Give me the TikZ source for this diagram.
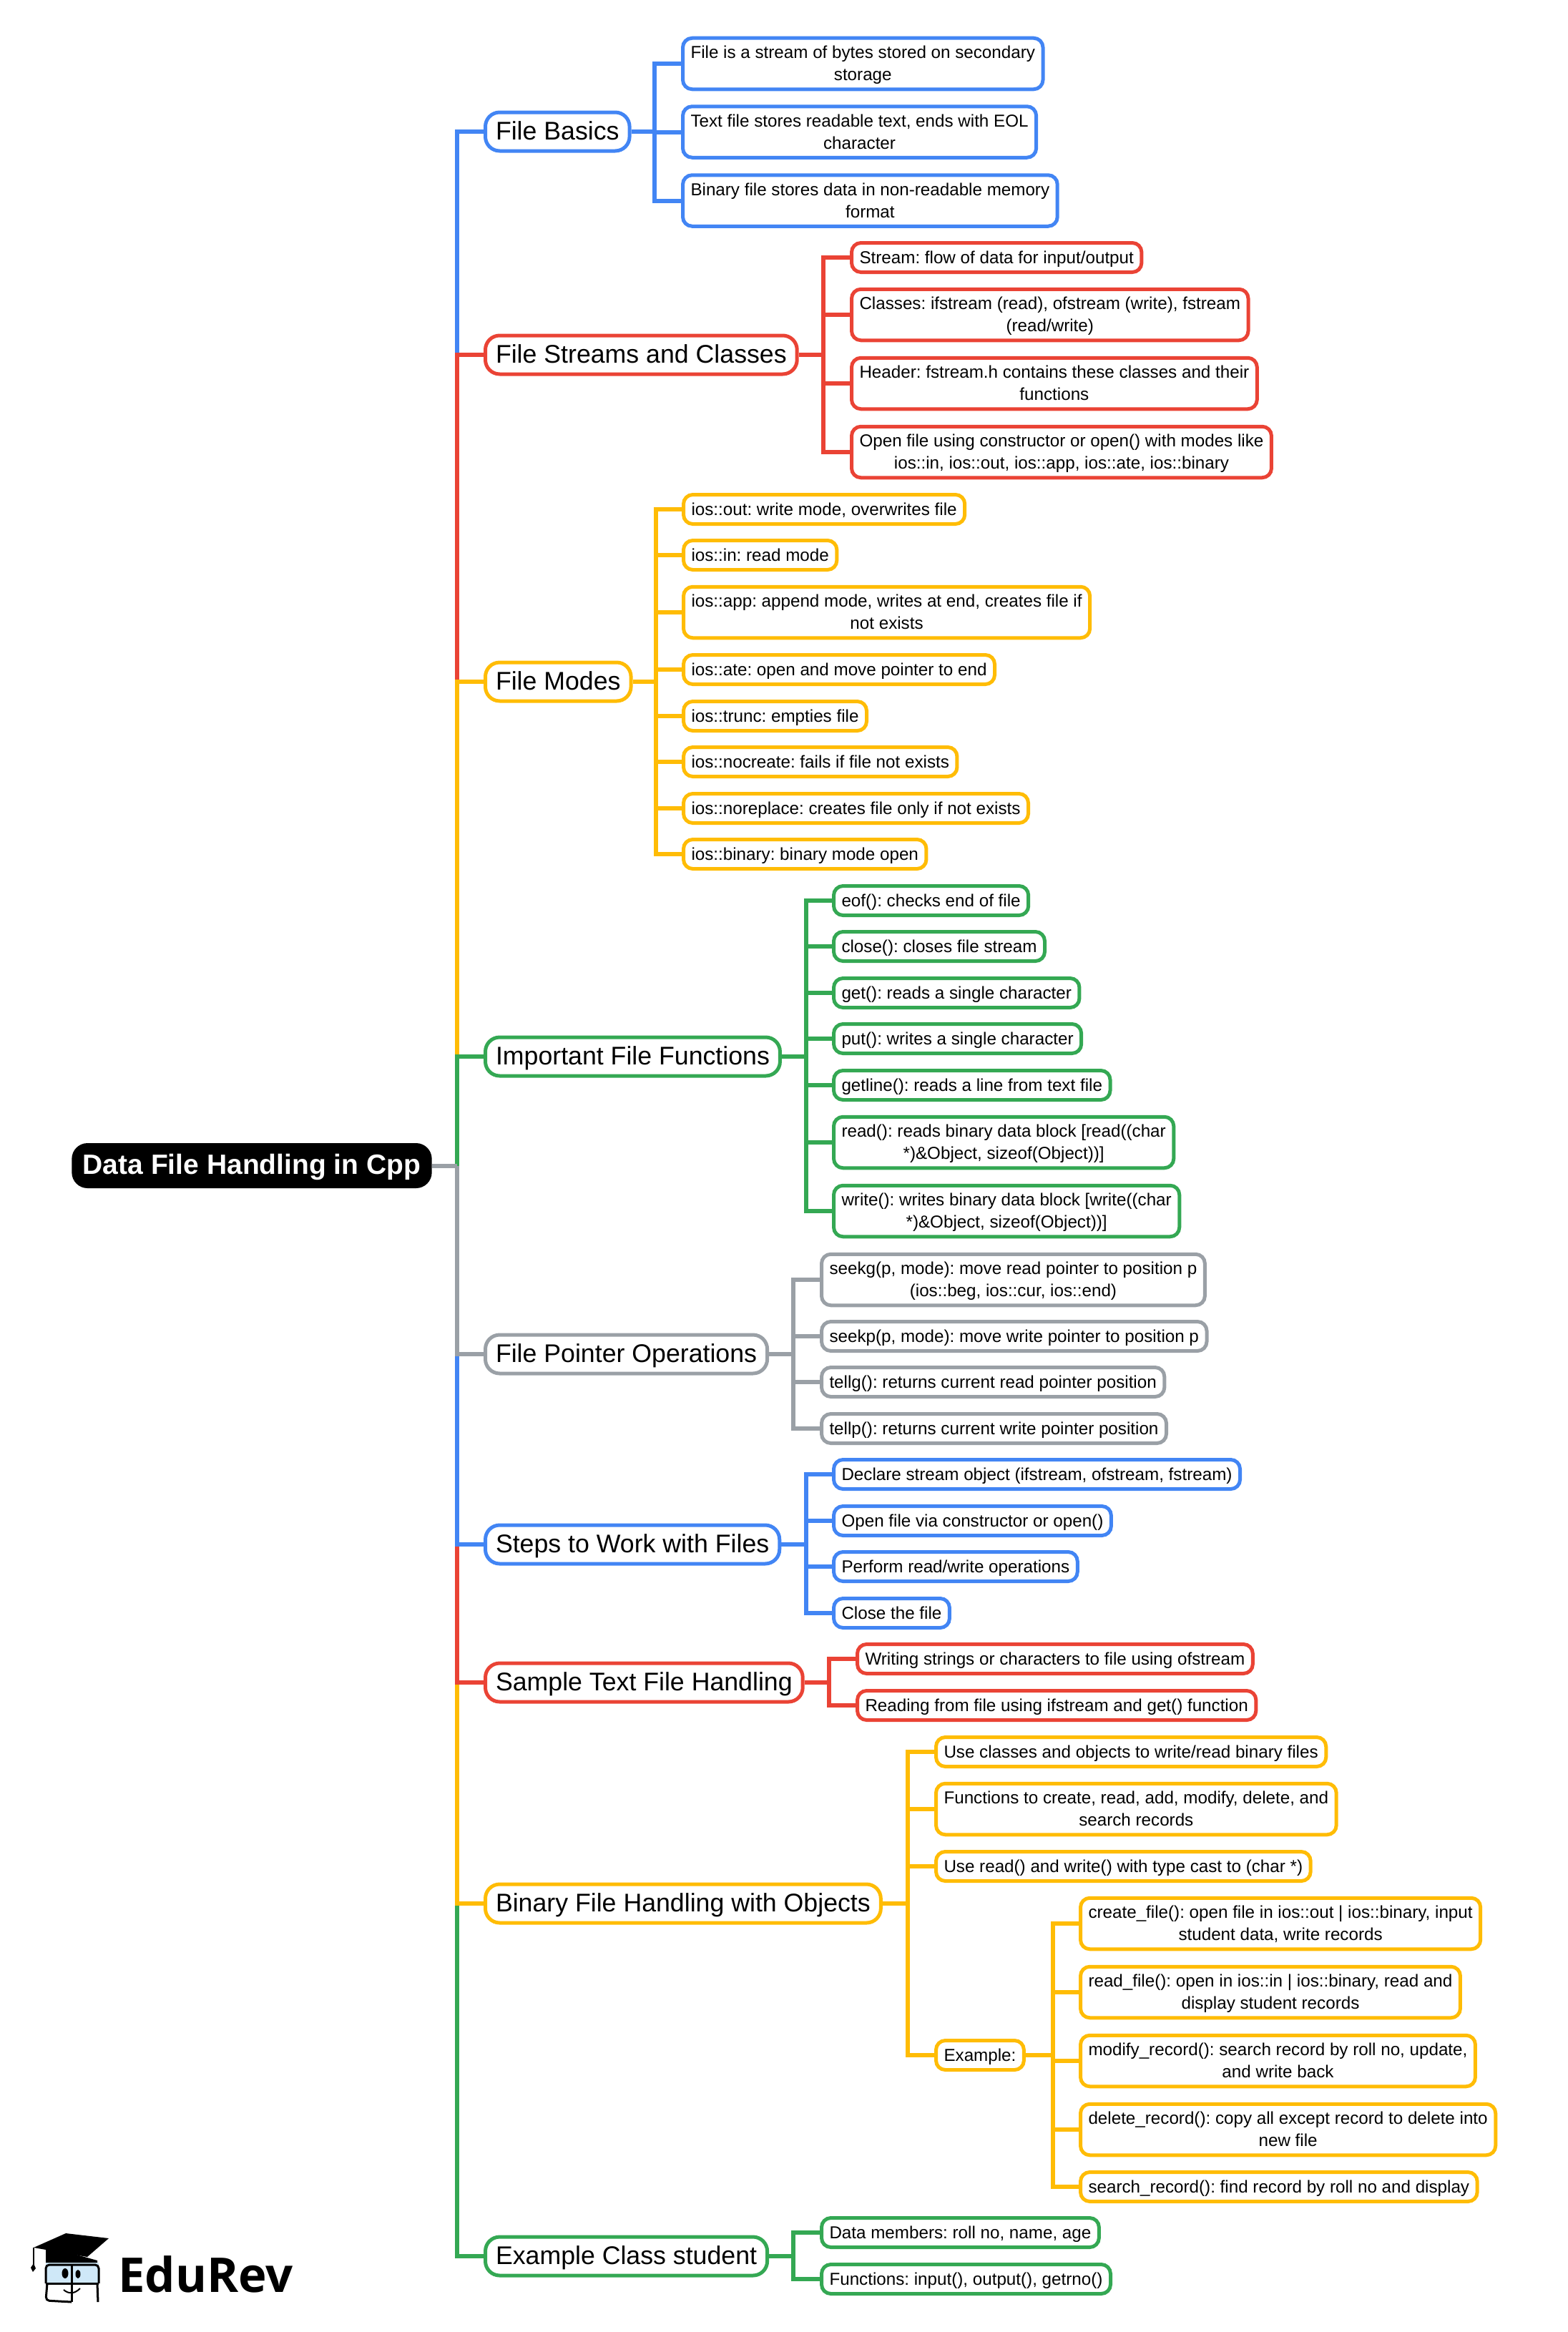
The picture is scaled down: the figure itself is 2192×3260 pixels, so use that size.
\documentclass[tikz,border=0pt]{standalone}
\usepackage{fontspec}
\setmainfont{Liberation Sans}
\newfontfamily\logofont{Open Sans}
\frenchspacing
\definecolor{cblue}{HTML}{4285F4}
\definecolor{cred}{HTML}{EA4335}
\definecolor{cyellow}{HTML}{FFBC05}
\definecolor{cgreen}{HTML}{34A853}
\definecolor{cgrey}{HTML}{9AA0A6}
\definecolor{cglass}{HTML}{CFE8F8}
\tikzset{
  cpproot/.style={fill=black, text=white, rounded corners=22pt, inner xsep=15.5pt, inner ysep=0pt,
    minimum height=63pt, text height=30pt, text depth=5.5pt, font=\fontsize{39}{46}\selectfont\bfseries},
  branch/.style={draw=#1, fill=white, line width=5pt, rounded corners=20pt, anchor=west, inner xsep=14.5pt,
    inner ysep=0pt, minimum height=54pt, text height=28pt, text depth=5pt, font=\fontsize{35.7}{42}\selectfont},
  boxbase/.style={draw=#1, fill=white, line width=5pt, rounded corners=13pt, anchor=west, inner xsep=11pt,
    inner ysep=0pt, align=center, font=\fontsize{24.2}{31}\selectfont},
  leaf/.style={boxbase=#1, minimum height=41pt, text height=19.5pt, text depth=3.5pt},
  tall/.style={boxbase=#1, minimum height=71.5pt, text height=50pt, text depth=3pt},
  link/.style={draw=#1, line width=6pt}
}
\begin{document}
\begin{tikzpicture}[x=1pt, y=-1pt]
  \useasboundingbox (0,0) rectangle (2192,3260);

  % Trunk x of the main branches
  \def\trunk{639}
  \def\mainx{676}

  % === Root and main branches
  \node[cpproot] (root) at (352,1629.5) {Data File Handling in Cpp};
  \coordinate (trunktop) at (\trunk,1629.5);

  \node[branch=cblue] (basics) at (\mainx,184) {File Basics};
  \node[branch=cred] (streams) at (\mainx,496) {File Streams and Classes};
  \node[branch=cyellow] (modes) at (\mainx,953) {File Modes};
  \node[branch=cgreen] (funcs) at (\mainx,1477) {Important File Functions};
  \node[branch=cgrey] (pointer) at (\mainx,1893) {File Pointer Operations};
  \node[branch=cblue] (steps) at (\mainx,2159) {Steps to Work with Files};
  \node[branch=cred] (sample) at (\mainx,2352) {Sample Text File Handling};
  \node[branch=cyellow] (binary) at (\mainx,2661) {Binary File Handling with Objects};
  \node[branch=cgreen] (student) at (\mainx,3154) {Example Class student};

  % Outer branches first, so that the nearer ones lie on top
  \foreach \b/\c in {basics/cblue, streams/cred, modes/cyellow, funcs/cgreen,
                     student/cgreen, binary/cyellow, sample/cred, steps/cblue, pointer/cgrey}
    \draw[link=\c] (trunktop) |- (\b.west);
  \draw[link=cgrey] (root.east) -- (trunktop);

  % === File Basics
  \node[tall=cblue] (basics1) at (952,89) {File is a stream of bytes stored on secondary\\storage};
  \node[tall=cblue] (basics2) at (952,184.5) {Text file stores readable text, ends with EOL\\character};
  \node[tall=cblue] (basics3) at (952,280.5) {Binary file stores data in non-readable memory\\format};
  \coordinate (basicsbus) at (915,184);
  \draw[link=cblue] (basics.east) -- (basicsbus);
  \foreach \n in {basics1,basics2,basics3}
    \draw[link=cblue] (basicsbus) |- (\n.west);

  % === File Streams and Classes
  \node[leaf=cred] (streams1) at (1188,360) {Stream: flow of data for input/output};
  \node[tall=cred] (streams2) at (1188,440) {Classes: ifstream (read), ofstream (write), fstream\\(read/write)};
  \node[tall=cred] (streams3) at (1188,536) {Header: fstream.h contains these classes and their\\functions};
  \node[tall=cred] (streams4) at (1188,632) {Open file using constructor or open() with modes like\\ios::in, ios::out, ios::app, ios::ate, ios::binary};
  \coordinate (streamsbus) at (1151,496);
  \draw[link=cred] (streams.east) -- (streamsbus);
  \foreach \n in {streams1,streams2,streams3,streams4}
    \draw[link=cred] (streamsbus) |- (\n.west);

  % === File Modes
  \node[leaf=cyellow] (modes1) at (953,712) {ios::out: write mode, overwrites file};
  \node[leaf=cyellow] (modes2) at (953,776) {ios::in: read mode};
  \node[tall=cyellow] (modes3) at (953,856) {ios::app: append mode, writes at end, creates file if\\not exists};
  \node[leaf=cyellow] (modes4) at (953,936) {ios::ate: open and move pointer to end};
  \node[leaf=cyellow] (modes5) at (953,1001) {ios::trunc: empties file};
  \node[leaf=cyellow] (modes6) at (953,1065) {ios::nocreate: fails if file not exists};
  \node[leaf=cyellow] (modes7) at (953,1130) {ios::noreplace: creates file only if not exists};
  \node[leaf=cyellow] (modes8) at (953,1194) {ios::binary: binary mode open};
  \coordinate (modesbus) at (917,953);
  \draw[link=cyellow] (modes.east) -- (modesbus);
  \foreach \n in {modes1,modes2,modes3,modes4,modes5,modes6,modes7,modes8}
    \draw[link=cyellow] (modesbus) |- (\n.west);

  % === Important File Functions
  \node[leaf=cgreen] (funcs1) at (1163,1259) {eof(): checks end of file};
  \node[leaf=cgreen] (funcs2) at (1163,1323) {close(): closes file stream};
  \node[leaf=cgreen] (funcs3) at (1163,1388) {get(): reads a single character};
  \node[leaf=cgreen] (funcs4) at (1163,1452) {put(): writes a single character};
  \node[leaf=cgreen] (funcs5) at (1163,1517) {getline(): reads a line from text file};
  \node[tall=cgreen] (funcs6) at (1163,1597) {read(): reads binary data block [read((char\\{}*)\&Object, sizeof(Object))]};
  \node[tall=cgreen] (funcs7) at (1163,1693) {write(): writes binary data block [write((char\\{}*)\&Object, sizeof(Object))]};
  \coordinate (funcsbus) at (1127,1477);
  \draw[link=cgreen] (funcs.east) -- (funcsbus);
  \foreach \n in {funcs1,funcs2,funcs3,funcs4,funcs5,funcs6,funcs7}
    \draw[link=cgreen] (funcsbus) |- (\n.west);

  % === File Pointer Operations
  \node[tall=cgrey] (pointer1) at (1146,1789) {seekg(p, mode): move read pointer to position p\\(ios::beg, ios::cur, ios::end)};
  \node[leaf=cgrey] (pointer2) at (1146,1868) {seekp(p, mode): move write pointer to position p};
  \node[leaf=cgrey] (pointer3) at (1146,1932) {tellg(): returns current read pointer position};
  \node[leaf=cgrey] (pointer4) at (1146,1997) {tellp(): returns current write pointer position};
  \coordinate (pointerbus) at (1109,1893);
  \draw[link=cgrey] (pointer.east) -- (pointerbus);
  \foreach \n in {pointer1,pointer2,pointer3,pointer4}
    \draw[link=cgrey] (pointerbus) |- (\n.west);

  % === Steps to Work with Files
  \node[leaf=cblue] (steps1) at (1163,2061) {Declare stream object (ifstream, ofstream, fstream)};
  \node[leaf=cblue] (steps2) at (1163,2126) {Open file via constructor or open()};
  \node[leaf=cblue] (steps3) at (1163,2190) {Perform read/write operations};
  \node[leaf=cblue] (steps4) at (1163,2255) {Close the file};
  \coordinate (stepsbus) at (1127,2159);
  \draw[link=cblue] (steps.east) -- (stepsbus);
  \foreach \n in {steps1,steps2,steps3,steps4}
    \draw[link=cblue] (stepsbus) |- (\n.west);

  % === Sample Text File Handling
  \node[leaf=cred] (sample1) at (1196,2319) {Writing strings or characters to file using ofstream};
  \node[leaf=cred] (sample2) at (1196,2384) {Reading from file using ifstream and get() function};
  \coordinate (samplebus) at (1159,2352);
  \draw[link=cred] (sample.east) -- (samplebus);
  \foreach \n in {sample1,sample2}
    \draw[link=cred] (samplebus) |- (\n.west);

  % === Binary File Handling with Objects
  \node[leaf=cyellow] (binary1) at (1306,2449) {Use classes and objects to write/read binary files};
  \node[tall=cyellow] (binary2) at (1306,2529) {Functions to create, read, add, modify, delete, and\\search records};
  \node[leaf=cyellow] (binary3) at (1306,2609) {Use read() and write() with type cast to (char *)};
  \node[leaf=cyellow] (example) at (1306,2873) {Example:};
  \coordinate (binarybus) at (1269,2661);
  \draw[link=cyellow] (binary.east) -- (binarybus);
  \foreach \n in {binary1,binary2,binary3,example}
    \draw[link=cyellow] (binarybus) |- (\n.west);

  % Example records
  \node[tall=cyellow] (record1) at (1508,2689) {create\_file(): open file in ios::out | ios::binary, input\\student data, write records};
  \node[tall=cyellow] (record2) at (1508,2785) {read\_file(): open in ios::in | ios::binary, read and\\display student records};
  \node[tall=cyellow] (record3) at (1508,2881) {modify\_record(): search record by roll no, update,\\and write back};
  \node[tall=cyellow] (record4) at (1508,2977) {delete\_record(): copy all except record to delete into\\new file};
  \node[leaf=cyellow] (record5) at (1508,3057) {search\_record(): find record by roll no and display};
  \coordinate (examplebus) at (1472,2873);
  \draw[link=cyellow] (example.east) -- (examplebus);
  \foreach \n in {record1,record2,record3,record4,record5}
    \draw[link=cyellow] (examplebus) |- (\n.west);

  % === Example Class student
  \node[leaf=cgreen] (student1) at (1146,3121) {Data members: roll no, name, age};
  \node[leaf=cgreen] (student2) at (1146,3186) {Functions: input(), output(), getrno()};
  \coordinate (studentbus) at (1109,3154);
  \draw[link=cgreen] (student.east) -- (studentbus);
  \foreach \n in {student1,student2}
    \draw[link=cgreen] (studentbus) |- (\n.west);

  % === Logo
  \fill[cglass] (64,3163) rectangle (138,3192);
  \draw[line width=3pt, rounded corners=5pt] (64,3192) -- (64,3166) -- (138,3166) -- (138,3192);
  \draw[line width=3pt, rounded corners=5pt] (66,3192) -- (64,3216) -- (100,3218);
  \draw[line width=3pt, rounded corners=3pt] (136,3192) -- (137,3218);
  \draw[line width=3pt] (64,3192) -- (138,3192);
  \draw[line width=3pt] (100,3166) -- (100,3218);
  \fill (64,3140) -- (136,3160) -- (136,3163) -- (64,3163) -- cycle;
  \fill (47,3142) -- (92,3122) -- (152,3129) -- (122,3155) -- cycle;
  \draw[line width=2pt] (47,3142) -- (47,3166);
  \fill (47,3164) -- (50,3171) -- (46,3176) -- (43,3170) -- cycle;
  \fill (91,3178) ellipse (4.5pt and 7pt);
  \fill (109,3179) ellipse (3.5pt and 6pt);
  \draw[line width=2pt] (89,3201) .. controls (96,3207) and (104,3207) .. (112,3199);
  \node[font=\fontsize{67}{80}\selectfont\logofont\bfseries, anchor=base west, inner sep=0pt] (logoname) at (165,3204) {EduRev};
\end{tikzpicture}
\end{document}
